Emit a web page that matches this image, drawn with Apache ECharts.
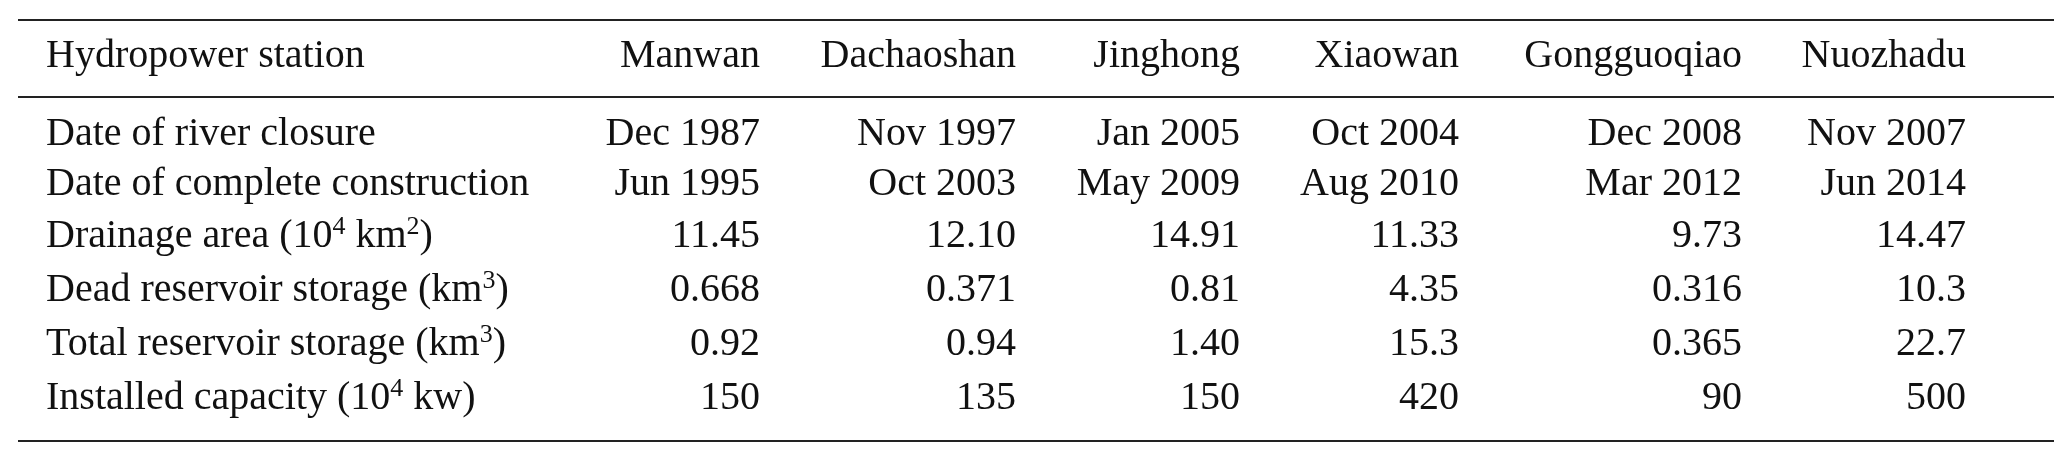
<!DOCTYPE html>
<html><head><meta charset="utf-8">
<script src="https://cdn.jsdelivr.net/npm/echarts@6/dist/echarts.min.js"></script>
<style>html,body{margin:0;padding:0;background:#fff}#c{width:2067px;height:461px}</style>
</head><body><div id="c"></div>
<script>
const stations = ['Manwan','Dachaoshan','Jinghong','Xiaowan','Gongguoqiao','Nuozhadu'];
const rowLabels = ['Date of river closure','Date of complete construction','Drainage area (10{sup|4} km{sup|2})','Dead reservoir storage (km{sup|3})','Total reservoir storage (km{sup|3})','Installed capacity (10{sup|4} kw)'];
const riverClosure = ['Dec 1987','Nov 1997','Jan 2005','Oct 2004','Dec 2008','Nov 2007'];
const completion = ['Jun 1995','Oct 2003','May 2009','Aug 2010','Mar 2012','Jun 2014'];
const drainageArea = ['11.45','12.10','14.91','11.33','9.73','14.47'];
const deadStorage = ['0.668','0.371','0.81','4.35','0.316','10.3'];
const totalStorage = ['0.92','0.94','1.40','15.3','0.365','22.7'];
const capacity = ['150','135','150','420','90','500'];
const rows = [riverClosure, completion, drainageArea, deadStorage, totalStorage, capacity];

const colRight = [760,1016,1240,1459,1742,1966];
const headerY = 56;
const rowY = [134,184,236,290,344,398];
const font = 'Liberation Serif';
const fs = 40;
const rich = {sup:{fontSize:26,fontFamily:font,verticalAlign:'top',lineHeight:24,fill:'#111'}};
function txt(t,x,y,align){return {type:'text',x:x,y:y,style:{text:t,fontFamily:font,fontSize:fs,fill:'#111',align:align,verticalAlign:'middle',rich:rich,lineHeight:44}};}
const g = [];
const line = y => ({type:'line',shape:{x1:18,y1:y,x2:2054,y2:y},style:{stroke:'#222',lineWidth:2}});
g.push(line(20),line(97),line(441));
g.push(txt('Hydropower station',46,headerY,'left'));
stations.forEach((s,i)=>g.push(txt(s,colRight[i],headerY,'right')));
rowLabels.forEach((l,r)=>{
  g.push(txt(l,46,rowY[r],'left'));
  rows[r].forEach((v,i)=>g.push(txt(v,colRight[i],rowY[r],'right')));
});
const chart = echarts.init(document.getElementById('c'));
chart.setOption({backgroundColor:'#fff',graphic:g});
</script></body></html>
